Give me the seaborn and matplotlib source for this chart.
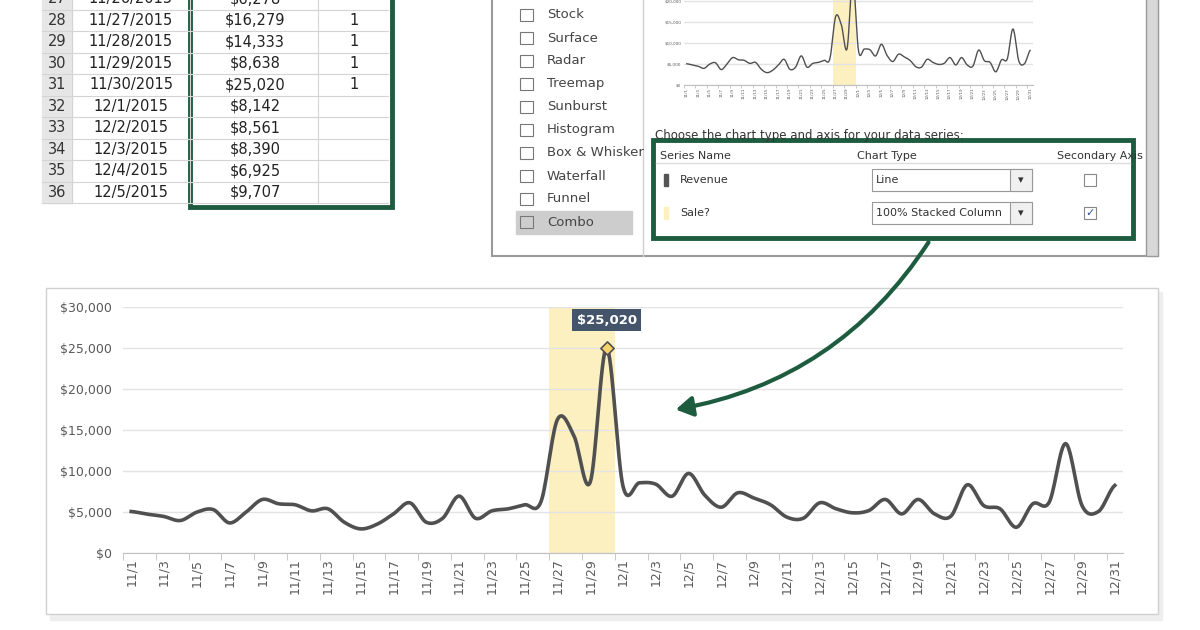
import numpy as np
import pandas as pd
import seaborn as sns
import matplotlib.pyplot as plt
from matplotlib.patches import Rectangle, FancyArrowPatch

# daily revenue, Nov 1 - Dec 31 2015
revenue = [5060, 4730, 4450, 3960, 4980, 5300, 3670, 4980, 6530, 6000,
           5880, 5140, 5390, 3750, 2940, 3510, 4770, 6120, 3750, 4240,
           6940, 4240, 5140, 5390, 5880, 6278, 16279, 14333, 8638, 25020,
           8142, 8561, 8390, 6925, 9707, 7020, 5590, 7340, 6690, 5880,
           4370, 4240, 6120, 5390, 4900, 5180, 6530, 4770, 6530, 4770,
           4490, 8320, 5790, 5390, 3140, 6000, 6200, 13340, 5790, 5060, 8240]
dates = pd.date_range("2015-11-01", "2015-12-31")
sale_days = ["2015-11-27", "2015-11-28", "2015-11-29", "2015-11-30"]
day_labels = [f"{d.month}/{d.day}" for d in dates]

# spreadsheet fragment
sheet_rows = list(range(27, 37))
sheet_dates = [f"{d.month}/{d.day}/2015" for d in dates[25:35]]
sheet_rev = revenue[25:35]
sheet_sale = ["", "1", "1", "1", "1", "", "", "", "", ""]

chart_types = ["Stock", "Surface", "Radar", "Treemap", "Sunburst", "Histogram",
               "Box & Whisker", "Waterfall", "Funnel", "Combo"]

df = pd.DataFrame({"day": np.arange(len(dates)), "revenue": revenue})
sale_idx = [list(dates.strftime("%Y-%m-%d")).index(s) for s in sale_days]


def smooth(y, n=16):
    # Catmull-Rom curve through the points, like Excel's smoothed line
    y = np.asarray(y, float)
    p = np.concatenate([[y[0]], y, [y[-1]]])
    xs, ys = [], []
    t = np.linspace(0, 1, n, endpoint=False)
    for i in range(len(y) - 1):
        p0, p1, p2, p3 = p[i], p[i + 1], p[i + 2], p[i + 3]
        v = 0.5 * (2 * p1 + (-p0 + p2) * t + (2 * p0 - 5 * p1 + 4 * p2 - p3) * t ** 2
                   + (-p0 + 3 * p1 - 3 * p2 + p3) * t ** 3)
        xs.extend(i + t)
        ys.extend(v)
    xs.append(len(y) - 1)
    ys.append(y[-1])
    return pd.DataFrame({"day": xs, "revenue": ys})


curve = smooth(df["revenue"])
money = lambda v, p=None: f"${v:,.0f}"

fig = plt.figure(figsize=(12, 6.3), dpi=100)
fig.patch.set_facecolor("white")

bg = fig.add_axes([0, 0, 1, 1], zorder=0)
bg.set_xlim(0, 1200)
bg.set_ylim(630, 0)
bg.axis("off")

# ---- spreadsheet ----
row_h = 21.5
top = -12
bg.add_patch(Rectangle((42, top), 30, row_h * 10, color="#E6E6E6"))
for i, r in enumerate(sheet_rows):
    yc = top + row_h * (i + 0.5)
    bg.text(57, yc, str(r), ha="center", va="center", fontsize=10.5, color="#333333")
    bg.text(131, yc, sheet_dates[i], ha="center", va="center", fontsize=10.5, color="#222222")
    bg.text(255, yc, money(sheet_rev[i]), ha="center", va="center", fontsize=10.5, color="#222222")
    bg.text(354, yc, sheet_sale[i], ha="center", va="center", fontsize=10.5, color="#222222")
    bg.plot([42, 388], [top + row_h * (i + 1)] * 2, color="#D4D4D4", lw=0.8)
for x in [72, 190, 318]:
    bg.plot([x, x], [top, top + row_h * 10], color="#D4D4D4", lw=0.8)
bg.add_patch(Rectangle((190, -5), 202, 212, fill=False, ec="#1E5C40", lw=3.5))

# ---- dialog ----
bg.add_patch(Rectangle((492, -5), 666, 261, fc="white", ec="#9A9A9A", lw=1.5))
bg.add_patch(Rectangle((1146, -5), 12, 261, fc="#D8D8D8", ec="#9A9A9A", lw=1))
bg.plot([643, 643], [0, 256], color="#CFCFCF", lw=1)
bg.add_patch(Rectangle((516, 211), 116, 23, color="#CDCDCD"))
for i, name in enumerate(chart_types):
    yc = 15 + 23 * i
    bg.add_patch(Rectangle((520, yc - 6), 13, 12, fill=False, ec="#777777", lw=0.8))
    bg.text(547, yc, name, ha="left", va="center", fontsize=9.5, color="#444444")
bg.text(655, 135, "Choose the chart type and axis for your data series:",
        ha="left", va="center", fontsize=8.5, color="#333333")
bg.add_patch(Rectangle((653, 140), 480, 98, fc="white", ec="#1E5C40", lw=3.5))
bg.plot([656, 1130], [163, 163], color="#DDDDDD", lw=1)
bg.text(660, 156, "Series Name", fontsize=8, va="center", color="#333333")
bg.text(857, 156, "Chart Type", fontsize=8, va="center", color="#333333")
bg.text(1057, 156, "Secondary Axis", fontsize=8, va="center", color="#333333")
for yc, name, ctype, col, chk in [(180, "Revenue", "Line", "#555555", False),
                                  (213, "Sale?", "100% Stacked Column", "#FCEFC0", True)]:
    bg.add_patch(Rectangle((664, yc - 6), 4, 12, color=col))
    bg.text(680, yc, name, fontsize=8, va="center", color="#333333")
    bg.add_patch(Rectangle((872, yc - 11), 160, 22, fc="white", ec="#999999", lw=0.8))
    bg.add_patch(Rectangle((1010, yc - 11), 22, 22, fc="#F0F0F0", ec="#999999", lw=0.8))
    bg.text(1021, yc, "\u25BE", ha="center", va="center", fontsize=8, color="#333333")
    bg.text(876, yc, ctype, fontsize=8, va="center", color="#333333")
    bg.add_patch(Rectangle((1084, yc - 6), 12, 12, fc="white", ec="#888888", lw=0.8))
    if chk:
        bg.text(1090, yc, "\u2713", ha="center", va="center", fontsize=8, color="#2F4F8F")

# ---- main chart frame ----
bg.add_patch(Rectangle((50, 292), 1112, 328, color="#EEEEEE"))
bg.add_patch(Rectangle((46, 288), 1112, 326, fc="white", ec="#D0D0D0", lw=1))


def draw_chart(ax, lw, fs, tick_len):
    ax.axvspan(min(sale_idx) - 0.5, max(sale_idx) + 0.5, color="#FCEFC0", lw=0, zorder=0)
    sns.lineplot(data=curve, x="day", y="revenue", ax=ax, color="#505050", lw=lw, zorder=3)
    ax.set_xlim(-0.5, len(df) - 0.5)
    ax.set_ylim(0, 30000)
    ax.set_yticks(range(0, 30001, 5000))
    ax.yaxis.set_major_formatter(money)
    ax.set_xticks(df["day"][::2])
    ax.set_xticklabels(day_labels[::2], rotation=90)
    ax.set_xticks(np.arange(-0.5, len(df), 2), minor=True)
    ax.tick_params(axis="x", which="major", length=0, labelsize=fs, colors="#595959", pad=4)
    ax.tick_params(axis="x", which="minor", length=tick_len, color="#BFBFBF")
    ax.tick_params(axis="y", length=0, labelsize=fs, colors="#595959", pad=8)
    ax.grid(axis="y", color="#E3E3E3", lw=1)
    ax.set_axisbelow(True)
    for s in ["top", "right", "left"]:
        ax.spines[s].set_visible(False)
    ax.spines["bottom"].set_color("#BFBFBF")
    ax.set_xlabel("")
    ax.set_ylabel("")
    ax.patch.set_alpha(0)


ax = fig.add_axes([123 / 1200, (630 - 553) / 630, 1000 / 1200, 246 / 630], zorder=2)
draw_chart(ax, 2.6, 9, 5)
peak = int(np.argmax(revenue))
sns.scatterplot(x=[peak], y=[revenue[peak]], ax=ax, marker="D", s=45, color="#F5D36A",
                edgecolor="#505050", linewidth=1.2, zorder=5)
ax.annotate(money(revenue[peak]), (peak, revenue[peak]), xytext=(0, 20),
            textcoords="offset points", ha="center", va="center", fontsize=9.5,
            color="white", fontweight="bold",
            bbox=dict(boxstyle="square,pad=0.35", fc="#44546A", ec="none"))

# mini preview chart inside the dialog
mini = fig.add_axes([684 / 1200, (630 - 85) / 630, 349 / 1200, 126 / 630], zorder=1)
draw_chart(mini, 1.0, 3, 2)
mini.tick_params(axis="y", pad=2)
mini.tick_params(axis="x", pad=2)

# ---- arrow ----
fg = fig.add_axes([0, 0, 1, 1], zorder=6)
fg.set_xlim(0, 1200)
fg.set_ylim(630, 0)
fg.axis("off")
fg.patch.set_alpha(0)
fg.add_patch(FancyArrowPatch((930, 240), (673, 410), connectionstyle="arc3,rad=-0.22",
                             arrowstyle="-|>,head_length=10,head_width=6",
                             color="#1E5C40", lw=3))

fig.savefig("out.png", dpi=100)
